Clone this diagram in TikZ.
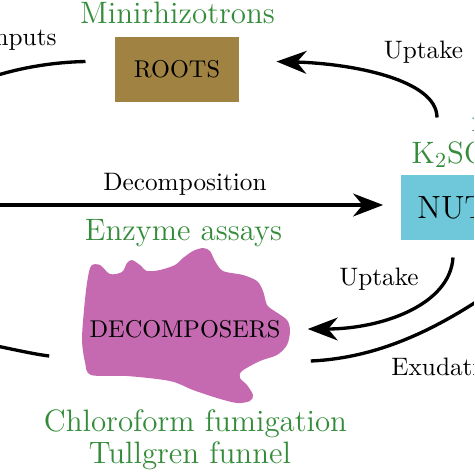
\documentclass[tikz,border=0pt]{standalone}
\usetikzlibrary{arrows.meta, positioning, calc}

\definecolor{rootbrown}{RGB}{160,131,66}
\definecolor{nutcyan}{RGB}{110,200,218}
\definecolor{decpink}{RGB}{197,106,176}
\definecolor{measgreen}{RGB}{52,140,58}

\begin{document}
\begin{tikzpicture}[
    x=0.42pt, y=-0.42pt,
    >={Stealth[length=12.6pt, width=9.6pt, inset=4pt]},
    poolbox/.style={inner sep=0pt, minimum height=27.3pt,
      font=\fontsize{10.2}{12}\selectfont},
    measure/.style={text=measgreen, inner sep=0pt,
      font=\fontsize{13}{15}\selectfont},
    flowlabel/.style={inner sep=0pt, font=\fontsize{10.6}{12}\selectfont},
    flow arrow/.style={->, line width=1.4pt},
    flow line/.style={line width=1.4pt},
  ]

  %% ---- frame: the picture is a cut-out, 474 x 474 px ----
  \useasboundingbox (0,0) rectangle (474,474);
  \clip (0,0) rectangle (474,474);

  %% ---- pools ----
  \node[poolbox, fill=rootbrown, minimum width=52.1pt] (roots)
    at (177,69.5) {ROOTS};
  \node[poolbox, fill=nutcyan, anchor=west, inner xsep=6.7pt,
        minimum height=27.3pt, font=\fontsize{13.5}{16}\selectfont] (nut)
    at (401,207.5) {NUTRIENTS};

  % decomposer blob
  \fill[decpink] plot[smooth cycle, tension=0.5] coordinates {
    (91,266) (100,265) (110,274) (122,272) (127,263) (132,260) (140,265)
    (147,271) (160,270) (175,265) (183,258) (193,251) (203,248) (210,251)
    (215,261) (223,271) (243,275) (257,281) (263,291) (267,305) (273,310)
    (287,320) (290,331) (287,345) (277,355) (260,361) (242,371) (240,378)
    (247,385) (253,395) (250,401) (237,403) (217,398) (193,390) (170,381)
    (127,376) (91,375) (85,362) (82,340) (84,310) (87,283)};
  \node[poolbox, minimum height=0pt] (decomp) at (185,329) {DECOMPOSERS};

  %% ---- off-picture ends ----
  \coordinate (inL)  at (-50,95);
  \coordinate (somR) at (-60,205);
  \coordinate (decL) at (-50,338);
  \coordinate (exR)  at (520,272);

  %% ---- fluxes ----
  % Inputs
  \draw[flow line] ([shift={(-29,-8)}]roots.west)
    .. controls +(-50,1) and +(35,-20) .. (inL);
  % Uptake by roots
  \draw[flow arrow] ([shift={(36,-57)}]nut.north west)
    .. controls +(0,-38) and +(75,2) .. ([shift={(37,-8)}]roots.east);
  % Decomposition
  \draw[flow arrow, shorten >=7.5pt] (somR) -- (somR -| nut.west);
  % Uptake by decomposers
  \draw[flow arrow] ([shift={(52,17)}]nut.south west)
    .. controls +(-3,48) and +(73,0) .. ([xshift=11.3pt]decomp.east);
  % Exudation
  \draw[flow line] ([shift={(30,32)}]decomp.east)
    .. controls +(90,-4) and +(-50,35) .. (exR);
  % towards the left
  \draw[flow line] ([shift={(-40,27)}]decomp.west)
    .. controls +(-25,-3) and +(30,3) .. (decL);

  %% ---- flux labels ----
  \node[flowlabel, anchor=base east] (inputs) at (57,45) {Inputs};
  \node[flowlabel, anchor=base] (uptR) at (423.5,58) {Uptake};
  \node[flowlabel, anchor=base] (decoLab) at (185,190) {Decomposition};
  \node[flowlabel, anchor=base] (uptD) at (379,285) {Uptake};
  \node[flowlabel, anchor=base west] (exud) at (391,375) {Exudation};

  %% ---- methods (green) ----
  \node[measure, anchor=base] (mrz) at (177.5,23) {Minirhizotrons};
  \node[measure, anchor=base] (enz) at (183.5,240) {Enzyme assays};
  \node[measure, anchor=base] (chl) at (195.5,431) {Chloroform fumigation};
  \node[measure, anchor=base] (tul) at (190,463) {Tullgren funnel};
  \node[measure, anchor=base west] (k2so) at (411,163) {K$_2$SO$_4$};
  \node[measure, anchor=base west] (resin) at (471,131) {i};

\end{tikzpicture}
\end{document}
